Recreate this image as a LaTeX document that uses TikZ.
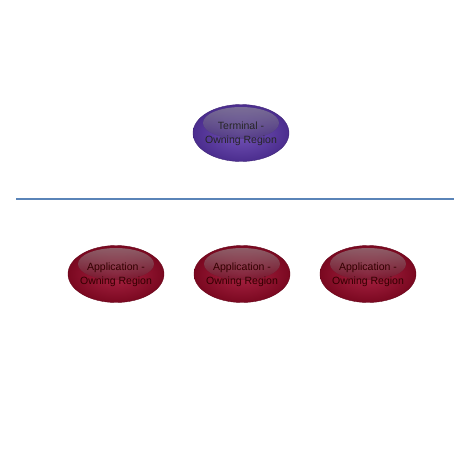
\documentclass[tikz,border=0pt]{standalone}
\usepackage{fontspec}
\setmainfont{Liberation Sans}
\usetikzlibrary{shapes.geometric,calc}
\definecolor{purplebase}{HTML}{4B2D8E}
\definecolor{purplemid}{HTML}{7454B8}
\definecolor{redbase}{HTML}{7A0820}
\definecolor{redmid}{HTML}{AA2444}
\definecolor{linecol}{HTML}{5A84B8}
\tikzset{
  region/.style={ellipse, inner sep=0pt, minimum width=96pt, minimum height=57pt,
    align=center, font=\fontsize{10.5}{14}\selectfont},
  termregion/.style={region, draw=purplebase!85!black, line width=0.4pt,
    inner color=purplemid, outer color=purplebase},
  appregion/.style={region, draw=redbase!85!black, line width=0.4pt,
    inner color=redmid, outer color=redbase},
  gloss/.style={opacity=0.35},
  label/.style={align=center, font=\fontsize{10.5}{14}\selectfont},
  divider/.style={draw=linecol, line width=2pt}
}
\begin{document}
\begin{tikzpicture}[x=1pt,y=-1pt]
\useasboundingbox[fill=white] (0,0) rectangle (474,474);
\coordinate (l1) at (16,199);
\coordinate (l2) at (454,199);
\draw[divider] (l1) -- (l2);

\node[termregion] (t) at (241,133) {};
\fill[gloss, top color=white, bottom color=purplemid] ($(t.center)+(0,-10)$) ellipse [x radius=38pt, y radius=16pt];
\node[label, text=black!85] (tt) at ($(t.center)+(0,1)$) {Terminal -\\Owning Region};

\foreach \n/\x in {a1/116,a2/242,a3/368}{
  \node[appregion] (\n) at (\x,274) {};
  \fill[gloss, top color=white, bottom color=redmid] ($(\n.center)+(0,-10)$) ellipse [x radius=38pt, y radius=16pt];
  \node[label, text=black!80!red] (\n t) at ($(\n.center)+(0,1)$) {Application -\\Owning Region};
}
\end{tikzpicture}
\end{document}
